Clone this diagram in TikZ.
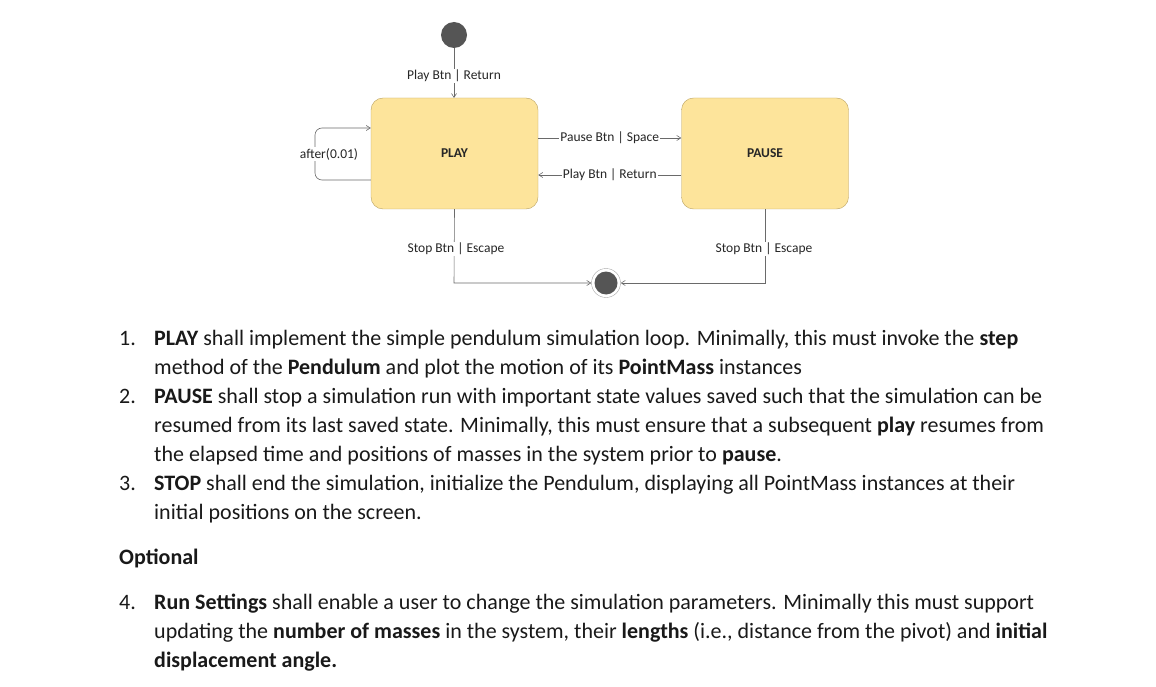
\documentclass[tikz,border=0pt]{standalone}
\usepackage{fontspec}
\setmainfont{Carlito}
\usetikzlibrary{arrows.meta}
\definecolor{ln}{HTML}{6A6A6A}
\definecolor{stfill}{HTML}{FDE49B}
\definecolor{stdraw}{HTML}{B8A060}
\definecolor{dot}{HTML}{555555}
\begin{document}
\begin{tikzpicture}[x=1pt,y=-1pt,
  state/.style={draw=stdraw,fill=stfill,rounded corners=12pt,minimum width=167pt,minimum height=111pt,font=\fontsize{13.5}{16}\selectfont\bfseries,text=black!85},
  lbl/.style={font=\fontsize{13.5}{16}\selectfont,text=black!85,fill=white,inner sep=1pt},
  tr/.style={draw=ln,line width=0.6pt,-{Straight Barb[length=4pt,width=5pt]}},
  body/.style={anchor=base west,font=\fontsize{22}{26}\selectfont,inner sep=0pt,text=black!90}]
\useasboundingbox (0,0) rectangle (1156,687);
\node[circle,fill=dot,minimum size=26pt,inner sep=0pt] (init) at (454,35) {};
\node[state] (play) at (454.5,153.5) {PLAY};
\node[state] (pause) at (765,153.5) {PAUSE};
\node[circle,fill=dot,minimum size=23pt,inner sep=0pt] (fin) at (606,283) {};
\node[circle,draw=ln!60,minimum size=29pt,inner sep=0pt] (finring) at (606,283) {};
\draw[tr] (init) -- (454,98) node[lbl,pos=0.55] {Play Btn | Return};
\draw[tr,rounded corners=7pt] (play.west |- 0,180) -- (315,180) -- (315,128) -- (play.west |- 0,128);
\node[lbl] (after) at (329,154) {after(0.01)};
\draw[tr] (play.east |- 0,138) -- (pause.west |- 0,138) node[lbl,midway] {Pause Btn | Space};
\draw[tr] (pause.west |- 0,175) -- (play.east |- 0,175) node[lbl,midway] {Play Btn | Return};
\draw[tr] (play.south) -- (454,283) -- (finring.west);
\draw[tr] (pause.south) -- (765,283) -- (finring.east);
\node[lbl] at (456,249) {Stop Btn | Escape};
\node[lbl] at (764,249) {Stop Btn | Escape};
\node[body] (n1) at (119,345) {1.};
\node[body] (l1a) at (154,345) {\textbf{PLAY} shall implement the simple pendulum simulation loop. Minimally, this must invoke the \textbf{step}};
\node[body] (l1b) at (154,374) {method of the \textbf{Pendulum} and plot the motion of its \textbf{PointMass} instances};
\node[body] (n2) at (119,403) {2.};
\node[body] (l2a) at (154,403) {\textbf{PAUSE} shall stop a simulation run with important state values saved such that the simulation can be};
\node[body] (l2b) at (154,432) {resumed from its last saved state. Minimally, this must ensure that a subsequent \textbf{play} resumes from};
\node[body] (l2c) at (154,461) {the elapsed time and positions of masses in the system prior to \textbf{pause}.};
\node[body] (n3) at (119,490) {3.};
\node[body] (l3a) at (154,490) {\textbf{STOP} shall end the simulation, initialize the Pendulum, displaying all PointMass instances at their};
\node[body] (l3b) at (154,519) {initial positions on the screen.};
\node[body] (opt) at (119,564) {\textbf{Optional}};
\node[body] (n4) at (119,609) {4.};
\node[body] (l4a) at (154,609) {\textbf{Run Settings} shall enable a user to change the simulation parameters. Minimally this must support};
\node[body] (l4b) at (154,638) {updating the \textbf{number of masses} in the system, their \textbf{lengths} (i.e., distance from the pivot) and \textbf{initial}};
\node[body] (l4c) at (154,667) {\textbf{displacement angle.}};
\end{tikzpicture}
\end{document}
